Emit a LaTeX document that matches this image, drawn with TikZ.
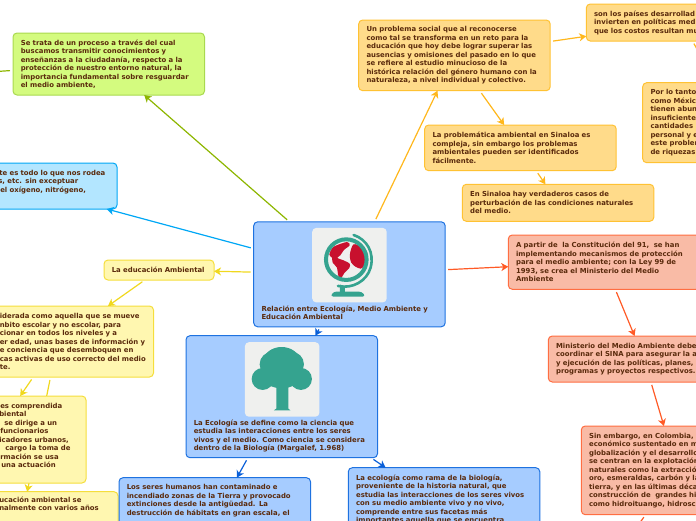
\documentclass[tikz,border=0pt]{standalone}
\usepackage{fontspec}
\usetikzlibrary{arrows.meta}
\setmainfont{DejaVu Sans}
\definecolor{textbrown}{HTML}{5A2A0C}
\definecolor{greenfill}{HTML}{D4FB7F}
\definecolor{greenline}{HTML}{A9D94F}
\definecolor{greenarrow}{HTML}{8DB600}
\definecolor{skyfill}{HTML}{B3E6FF}
\definecolor{skyline}{HTML}{00A7F5}
\definecolor{bluefill}{HTML}{A6CCFF}
\definecolor{blueline}{HTML}{1E72E0}
\definecolor{bluearrow}{HTML}{0A5FD8}
\definecolor{sandfill}{HTML}{FFF7B0}
\definecolor{sandline}{HTML}{F5DE3C}
\definecolor{sandarrow}{HTML}{F0D81E}
\definecolor{amberfill}{HTML}{FFDB8A}
\definecolor{amberline}{HTML}{FFC233}
\definecolor{amberarrow}{HTML}{FFB71C}
\definecolor{redfill}{HTML}{F9BBA6}
\definecolor{redline}{HTML}{FF6E42}
\definecolor{redarrow}{HTML}{FF5A26}
\definecolor{tilegrey}{HTML}{EFF0EE}
\definecolor{iconteal}{HTML}{35A38F}
\definecolor{iconred}{HTML}{C8102E}
\newcommand{\cutline}[2]{\hspace*{#1pt}\mbox{#2}}
\tikzset{
  mmbox/.style={anchor=north west,rounded corners=4pt,line width=1pt,outer sep=0pt,inner xsep=7.8pt,inner ysep=0pt,
    minimum width=191.5pt,text width=175.9pt,align=left,text=textbrown,
    font=\bfseries\fontsize{6.9}{8.5}\selectfont},
  greenbox/.style={mmbox,draw=greenline,fill=greenfill},
  skybox/.style={mmbox,draw=skyline,fill=skyfill},
  bluebox/.style={mmbox,draw=blueline,fill=bluefill},
  sandbox/.style={mmbox,draw=sandline,fill=sandfill},
  amberbox/.style={mmbox,draw=amberline,fill=amberfill},
  redbox/.style={mmbox,draw=redline,fill=redfill},
  tile/.style={anchor=north west,fill=tilegrey,rounded corners=4pt,minimum size=74.5pt,inner sep=0pt},
  link/.style={-{Stealth[length=7pt,width=8pt,inset=2pt]},line width=1.2pt,shorten <=3pt},
}
\begin{document}
\begin{tikzpicture}[x=1pt,y=-1pt]
    \path[use as bounding box,clip] (0,0) rectangle (696,520);

    % centre
    \node[bluebox,minimum height=105pt] (root) at (253.7,221.8) {\rule{0pt}{82pt}Relación entre Ecología, Medio Ambiente y\\Educación Ambiental};
    \node[tile] (globetile) at (312,227.7) {};
    \node[bluebox,minimum height=122pt] (ecology) at (186,335.7) {\rule{0pt}{84pt}La Ecología se define como la ciencia que\\estudia las interacciones entre los seres\\vivos y el medio. Como ciencia se considera\\dentro de la Biología (Margalef, 1.968)};
    \node[tile] (treetile) at (244.7,342) {};

    % globe
    \begin{scope}[shift={(312,226)},x=0.333pt,y=-0.333pt]
        \fill[iconred] plot[smooth cycle] coordinates {(52,86) (64,63) (105,48) (113,58) (96,72) (85,88) (76,96) (92,102) (113,113) (112,126) (98,140) (85,160) (78,145) (75,125) (62,110) (60,95)};
        \fill[iconred] plot[smooth cycle] coordinates {(115,78) (125,55) (150,62) (165,78) (168,100) (156,120) (146,128) (130,122) (118,110) (114,95)};
        \draw[iconteal,line width=4pt] (103,101) circle (61);
        \draw[iconteal,line width=2.6pt,line cap=round] (125,27) .. controls (165,40) and (188,80) .. (176,125) .. controls (165,165) and (122,190) .. (78,180);
        \fill[iconteal] (84,176) -- (98,180) -- (99,198) -- (84,198) -- cycle;
        \fill[iconteal,rounded corners=3pt] (64,197) -- (150,197) -- (161,212) -- (55,212) -- cycle;
    \end{scope}

    % tree
    \begin{scope}[shift={(244,341)},x=0.333pt,y=-0.333pt]
        \fill[iconteal] (113,60) ellipse (54 and 42);
        \fill[iconteal] (85,70) circle (38);
        \fill[iconteal] (142,70) circle (38);
        \fill[iconteal] (56,114) circle (33);
        \fill[iconteal] (171,114) circle (33);
        \fill[iconteal] (113,108) ellipse (55 and 34);
        \fill[iconteal] (97,130) -- (133,130) -- (133,203) -- (139,208) -- (90,208) -- (97,203) -- cycle;
    \end{scope}

    % upper left
    \node[greenbox,minimum height=62pt] (process) at (13,33) {Se trata de un proceso a través del cual\\buscamos transmitir conocimientos y\\enseñanzas a la ciudadanía, respecto a la\\protección de nuestro entorno natural, la\\importancia fundamental sobre resguardar\\el medio ambiente,};
    \coordinate (processfar) at (-100,78);
    \draw[link,greenarrow] (process) -- (processfar);
    \draw[link,greenarrow] (root) -- (process);
    \node[skybox,minimum height=46pt] (environment) at (-74.5,163) {\cutline{66}{te es todo lo que nos rodea}\\\cutline{65}{s, etc. sin exceptuar}\\\cutline{67}{el oxígeno, nitrógeno,}\vspace*{8.5pt}};
    \draw[link,skyline] (root) -- (environment);

    % education
    \node[sandbox,minimum height=20pt,minimum width=110pt,text width=94.4pt] (education) at (104,260) {La educación Ambiental};
    \draw[link,sandarrow] (root) -- (education);
    \node[sandbox,minimum height=71pt] (considered) at (-38,306) {\cutline{30}{iderada como aquella que se mueve}\\\cutline{30}{nbito escolar y no escolar, para}\\\cutline{30}{cionar en todos los niveles y a}\\\cutline{30}{er edad, unas bases de información y}\\\cutline{30}{e conciencia que desemboquen en}\\\cutline{30}{cas activas de uso correcto del medio}\\\cutline{30}{te.}};
    \draw[link,sandarrow] (education) -- (considered);
    \node[sandbox,minimum height=49pt] (yearsbox) at (-73.5,491.7) {\cutline{65}{ucación ambiental se}\\\cutline{65}{nalmente con varios años}\vspace*{25pt}};
    \draw[link,sandarrow] (considered) -- (yearsbox);
    \node[sandbox,minimum height=87pt] (actors) at (-105.5,396) {\cutline{98}{es comprendida}\\\cutline{97}{biental}\\\cutline{102}{se dirige a un}\\\cutline{98}{funcionarios}\\\cutline{97}{icadores urbanos,}\\\cutline{103}{cargo la toma de}\\\cutline{98}{rmación se usa}\\\cutline{99}{una actuación}\vspace*{8.5pt}};
    \draw[link,sandarrow] (considered) -- (actors);

    % lower middle
    \node[bluebox,minimum height=80pt] (humans) at (119,477.7) {Los seres humanos han contaminado e\\incendiado zonas de la Tierra y provocado\\extinciones desde la antigüedad. La\\destrucción de hábitats en gran escala, el\vspace*{34pt}};
    \node[bluebox,minimum height=80pt] (branch) at (348.3,467.7) {La ecología como rama de la biología,\\proveniente de la historia natural, que\\estudia las interacciones de los seres vivos\\con su medio ambiente vivo y no vivo,\\comprende entre sus facetas más\\importantes aquella que se encuentra\vspace*{17pt}};
    \draw[link,bluearrow] (root) -- (ecology);
    \draw[link,bluearrow] (ecology) -- (humans);
    \draw[link,bluearrow] (ecology) -- (branch);

    % upper right
    \node[amberbox,minimum height=70.7pt] (social) at (358.7,20) {Un problema social que al reconocerse\\como tal se transforma en un reto para la\\educación que hoy debe lograr superar las\\ausencias y omisiones del pasado en lo que\\se refiere al estudio minucioso de la\\histórica relación del género humano con la\\naturaleza, a nivel individual y colectivo.};
    \node[amberbox,minimum height=37pt] (developed) at (586.3,4) {son los países desarrollad\\invierten en políticas med\\que los costos resultan mu};
    \node[amberbox,minimum height=80pt] (mexico) at (642.7,82.7) {Por lo tanto\\como México\\tienen abun\\insuficiente\\cantidades\\personal y e\\este problem\\de riquezas};
    \node[amberbox,minimum height=45.7pt] (sinaloa) at (424.7,125) {La problemática ambiental en Sinaloa es\\compleja, sin embargo los problemas\\ambientales pueden ser identificados\\fácilmente.};
    \node[amberbox,minimum height=37pt] (cases) at (462.3,184.3) {En Sinaloa hay verdaderos casos de\\perturbación de las condiciones naturales\\del medio.};
    \draw[link,amberarrow] (root) -- (social);
    \draw[link,amberarrow] (social) -- (developed);
    \draw[link,amberarrow] (developed) -- (mexico);
    \draw[link,amberarrow] (social) -- (sinaloa);
    \draw[link,amberarrow] (sinaloa) -- (cases);

    % right
    \node[redbox,minimum height=54.3pt] (law) at (508.3,235) {A partir de\ \ la Constitución del 91,\ \ se han\\implementando mecanismos de protección\\para el medio ambiente; con la Ley 99 de\\1993, se crea el Ministerio del Medio\\Ambiente};
    \node[redbox,minimum height=46pt] (ministry) at (548.3,336) {Ministerio del Medio Ambiente debe\\coordinar el SINA para asegurar la a\\y ejecución de las políticas, planes,\\programas y proyectos respectivos.};
    \node[redbox,minimum height=88.7pt] (colombia) at (581.3,426) {Sin embargo, en Colombia,\\económico sustentado en m\\globalización y el desarrollo\\se centran en la explotación\\naturales como la extracción\\oro, esmeraldas, carbón y la\\tierra, y en las últimas déca\\construcción de\ \ grandes hi\\como hidroituango, hidrosc};
    \coordinate (colombiafar) at (620.5,550);
    \draw[link,redarrow] (root) -- (law);
    \draw[link,redarrow] (law) -- (ministry);
    \draw[link,redarrow] (ministry) -- (colombia);
    \draw[link,redarrow] (colombia) -- (colombiafar);
\end{tikzpicture}
\end{document}
